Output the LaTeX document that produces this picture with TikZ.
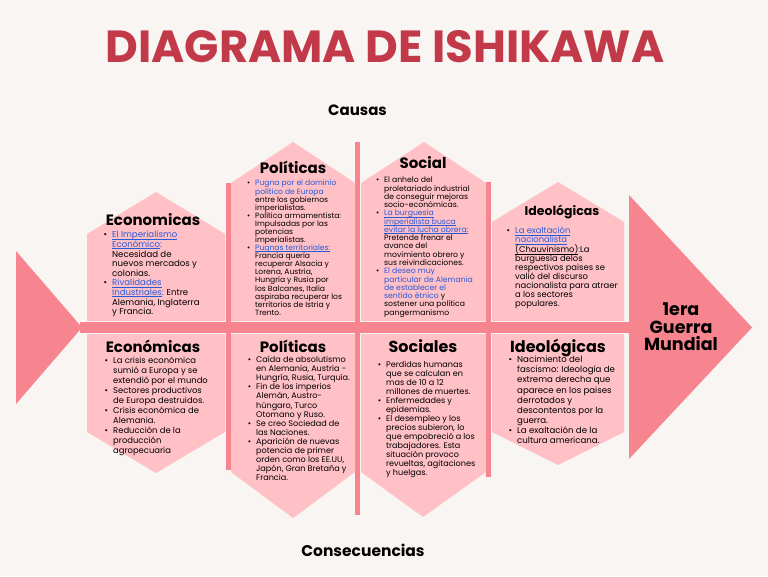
\documentclass[tikz,border=0pt]{standalone}
\usepackage{fontspec}
\setmainfont{Poppins}
\newfontfamily\headface{Poppins}
\newfontfamily\bodyface{Poppins}
\definecolor{Paper}{HTML}{F8F5F2}
\definecolor{Salmon}{HTML}{F7858F}
\definecolor{Blush}{HTML}{FFC0C6}
\definecolor{Crimson}{HTML}{C2394A}
\definecolor{Link}{HTML}{2A5BD7}
% bullet hanging left of the text column
\newcommand{\bul}{\llap{\textbullet\hspace{5pt}}}
% thin underline close to the baseline, no extra depth
\newcommand{\undl}[1]{\leavevmode\setbox0\hbox{#1}\rlap{\rule[-1.3pt]{\wd0}{0.5pt}}\box0}
\newcommand{\lnk}[1]{\textcolor{Link}{#1}}
\newcommand{\ulnk}[1]{\textcolor{Link}{\undl{#1}}}

\begin{document}
\begin{tikzpicture}[x=1pt,y=-1pt,
  bone/.style={fill=Salmon},
  card/.style={fill=Blush},
  head/.style={anchor=base,font=\headface\bfseries\fontsize{#1}{#1}\selectfont},
  head/.default=15,
  body/.style 2 args={anchor=north west,inner sep=0pt,align=left,font=\bodyface\fontsize{#1}{#2}\selectfont}
]
\fill[Paper] (0,0) rectangle (768,576);
\useasboundingbox (0,0) rectangle (768,576);

% titles
\node[head=45,text=Crimson] (title) at (385,62) {DIAGRAMA DE ISHIKAWA};
\node[head=15] (causas) at (357.5,115) {Causas};
\node[head=15.5] (consec) at (363,556) {Consecuencias};

% bones, spine, tail and head
\fill[bone] (226,183) rectangle (231,470);
\fill[bone] (355,142) rectangle (360,515);
\fill[bone] (486,182) rectangle (491,477);
\fill[bone] (80,322) rectangle (632,333);
\fill[bone] (16,251) -- (82,327.5) -- (16,404) -- cycle;
\fill[bone] (629,195) -- (752,327.5) -- (629,459) -- cycle;

% cards above the spine
\fill[card] (87,321) -- (87,234) -- (156,192) -- (225,234) -- (225,321) -- cycle;
\fill[card] (231,321) -- (231,183) -- (293,142) -- (355,183) -- (355,321) -- cycle;
\fill[card] (361,321) -- (361,183) -- (424,142) -- (486,183) -- (486,321) -- cycle;
\fill[card] (492,321) -- (492,222) -- (558,182) -- (624,222) -- (624,321) -- cycle;
% cards below the spine
\fill[card] (87,334) -- (225,334) -- (225,432) -- (156,473) -- (87,432) -- cycle;
\fill[card] (231,334) -- (355,334) -- (355,472) -- (293,518) -- (231,472) -- cycle;
\fill[card] (361,334) -- (486,334) -- (486,472) -- (423,517) -- (361,472) -- cycle;
\fill[card] (492,334) -- (624,334) -- (624,432) -- (558,465) -- (492,432) -- cycle;

\node[anchor=center,align=center,font=\headface\bfseries\fontsize{17.5}{17.5}\selectfont] (guerra) at (681,327) {1era\\Guerra\\Mundial};

% causas
\node[head] (econT) at (153,225) {Economicas};
\node[body={8.6}{9.6}] (econTxt) at (112,231.2) {\bul\ulnk{El Imperialismo}\\
  \ulnk{Económico}\lnk{:}\\ Necesidad de\\ nuevos mercados y\\ colonias.\\
  \bul\ulnk{Rivalidades}\\ \ulnk{Industriales}\lnk{:} Entre\\ Alemania, Inglaterra\\ y Francia.};

\node[head] (poliT) at (293,173) {Políticas};
\node[body={7.6}{8.08}] (poliTxt) at (255,180) {\bul\lnk{Pugna por el dominio}\\
  \lnk{político de Europa}\\ entre los gobiernos\\ imperialistas.\\
  \bul Política armamentista:\\ Impulsadas por las\\ potencias\\ imperialistas.\\
  \bul\ulnk{Pugnas territoriales:}\\ Francia quería\\ recuperar Alsacia y\\ Lorena, Austria,\\
  Hungría y Rusia por\\ los Balcanes, Italia\\ aspiraba recuperar los\\ territorios de Istria y\\ Trento.};

\node[head] (soclT) at (423,168) {Social};
\node[body={7.7}{8.27}] (soclTxt) at (384,176.9) {\bul El anhelo del\\
  proletariado industrial\\ de conseguir mejoras\\ socio-económicas.\\
  \bul\ulnk{La burguesía}\\ \ulnk{imperialista busca}\\ \ulnk{evitar la lucha obrera:}\\
  Pretende frenar el\\ avance del\\ movimiento obrero y\\ sus reivindicaciones.\\
  \bul\lnk{El deseo muy}\\ \lnk{particular de Alemania}\\ \lnk{de establecer el}\\
  \lnk{sentido étnico} y\\ sostener una política\\ pangermanismo};

\node[head=12.5] (ideoT) at (562,215) {Ideológicas};
\node[body={8.4}{8.96}] (ideoTxt) at (515,227) {\bul\ulnk{La exaltación}\\
  \ulnk{nacionalista}\\ \undl{(Chauvinismo)}\lnk{:}La\\ burguesía delos\\
  respectivos paises se\\ valió del discurso\\ nacionalista para atraer\\ a los sectores\\ populares.};

% consecuencias
\node[head] (econB) at (153,352) {Económicas};
\node[body={8.4}{10}] (econBTxt) at (113,357) {\bul La crisis económica\\
  sumió a Europa y se\\ extendió por el mundo\\
  \bul Sectores productivos\\ de Europa destruidos.\\
  \bul Crisis económica de\\ Alemania.\\
  \bul Reducción de la\\ producción\\ agropecuaria};

\node[head] (poliB) at (293,352) {Políticas};
\node[body={8.1}{9.1}] (poliBTxt) at (256,356) {\bul Caída de absolutismo\\
  en Alemania, Austria -\\ Hungría, Rusia, Turquía.\\
  \bul Fin de los imperios\\ Alemán, Austro-\\ húngaro, Turco\\ Otomano y Ruso.\\
  \bul Se creo Sociedad de\\ las Naciones.\\
  \bul Aparición de nuevas\\ potencia de primer\\ orden como los EE.UU,\\ Japón, Gran Bretaña y\\ Francia.};

\node[head=16] (soclB) at (423,352) {Sociales};
\node[body={8.1}{9.03}] (soclBTxt) at (386,361.2) {\bul Perdidas humanas\\
  que se calculan en\\ mas de 10 a 12\\ millones de muertes.\\
  \bul Enfermedades y\\ epidemias.\\
  \bul El desempleo y los\\ precios subieron, lo\\ que empobreció a los\\ trabajadores. Esta\\
  situación provoco\\ revueltas, agitaciones\\ y huelgas.};

\node[head=16] (ideoB) at (558,352) {Ideológicas};
\node[body={8.6}{10.1}] (ideoBTxt) at (517,356) {\bul Nacimiento del\\
  fascismo: Ideología de\\ extrema derecha que\\ aparece en los paises\\ derrotados y\\
  descontentos por la\\ guerra.\\
  \bul La exaltación de la\\ cultura americana.};
\end{tikzpicture}
\end{document}
